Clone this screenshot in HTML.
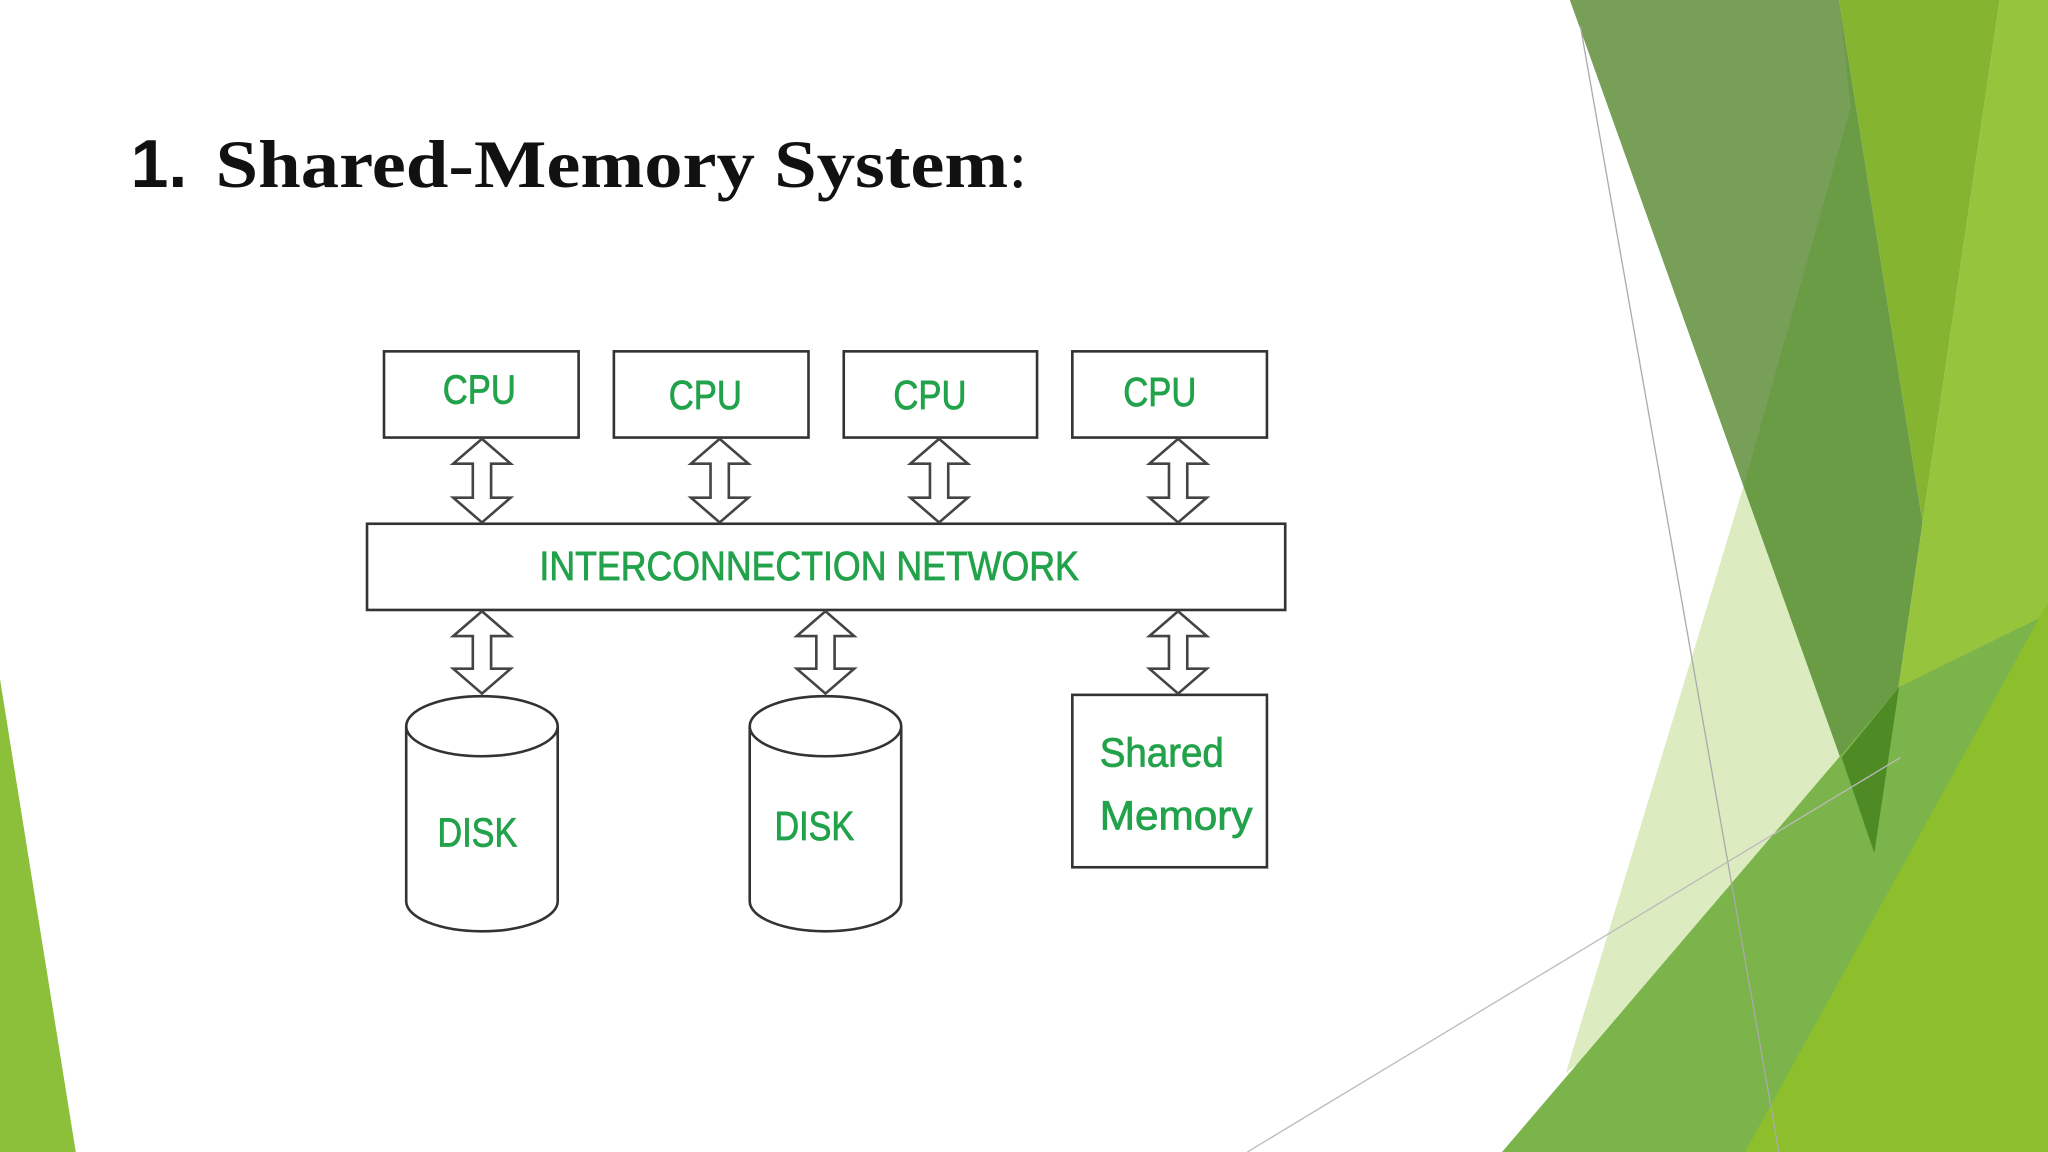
<!DOCTYPE html>
<html><head><meta charset="utf-8"><style>html,body{margin:0;padding:0;background:#fff}svg{display:block}</style></head>
<body>
<svg width="2048" height="1152" viewBox="0 0 1568 882" xmlns="http://www.w3.org/2000/svg">
<rect width="1568" height="882" fill="#fff"/>
<!-- background shapes -->
<polygon points="0,520 58,882 0,882" fill="#8cbf3a"/>
<polygon points="1272,197 1437,648 1199,821 1335,372" fill="#dcebc0"/>
<polygon points="1202,0 1408,0 1472,400 1435,653" fill="#6a9b45"/>
<polygon points="1202,0 1408,0 1417,82 1335,372" fill="#779f58"/>
<polygon points="1408,0 1531,0 1472,400" fill="#84b430"/>
<polygon points="1531,0 1568,0 1568,882 1400,882 1435,653 1472,400" fill="#96c43c"/>
<polygon points="1150,882 1454,526 1568,470 1568,882" fill="#7ab44a"/>
<polygon points="1336,882 1568,461 1568,882" fill="#8dbf2c"/>
<polygon points="1410,580 1454,526 1435,653" fill="#4f8b25"/>
<line x1="1210" y1="20" x2="1362" y2="882" stroke="#aaa" stroke-width="1"/>
<line x1="955" y1="882" x2="1455" y2="580" stroke="#bbb" stroke-width="1"/>
<!-- title -->
<text x="100" y="143" font-family="Liberation Sans, sans-serif" font-weight="bold" font-size="52" fill="#111">1.</text>
<text x="165" y="143" font-family="Liberation Serif, serif" font-weight="bold" font-size="52" fill="#111" textLength="607" lengthAdjust="spacingAndGlyphs">Shared-Memory System</text>
<text x="772" y="143" font-family="Liberation Serif, serif" font-size="52" fill="#111">:</text>
<!-- diagram -->
<g fill="#fff" stroke="#333" stroke-width="2">
<rect x="294" y="269" width="149" height="66"/>
<rect x="470" y="269" width="149" height="66"/>
<rect x="646" y="269" width="148" height="66"/>
<rect x="821" y="269" width="149" height="66"/>
<rect x="281" y="401" width="703" height="66"/>
<rect x="821" y="532" width="149" height="132"/>
<path d="M311,556 L311,690 A58,23 0 0 0 427,690 L427,556 A58,23 0 0 0 311,556 A58,23 0 0 0 427,556"/>
<path d="M574,556 L574,690 A58,23 0 0 0 690,690 L690,556 A58,23 0 0 0 574,556 A58,23 0 0 0 690,556"/>
</g>
<g fill="#fff" stroke="#444" stroke-width="2" stroke-linejoin="miter">
<polygon points="369,336 391,355 376,355 376,381 391,381 369,400 347,381 362,381 362,355 347,355"/>
<polygon points="551,336 573,355 558,355 558,381 573,381 551,400 529,381 544,381 544,355 529,355"/>
<polygon points="719,336 741,355 726,355 726,381 741,381 719,400 697,381 712,381 712,355 697,355"/>
<polygon points="902,336 924,355 909,355 909,381 924,381 902,400 880,381 895,381 895,355 880,355"/>
<polygon points="369,468 391,487 376,487 376,512 391,512 369,531 347,512 362,512 362,487 347,487"/>
<polygon points="632,468 654,487 639,487 639,512 654,512 632,531 610,512 625,512 625,487 610,487"/>
<polygon points="902,468 924,487 909,487 909,512 924,512 902,531 880,512 895,512 895,487 880,487"/>
</g>
<g font-family="Liberation Sans, sans-serif" fill="#22a24a" font-size="31" stroke="#22a24a" stroke-width="0.6">
<text x="339" y="309" textLength="56" lengthAdjust="spacingAndGlyphs">CPU</text>
<text x="512" y="313" textLength="56" lengthAdjust="spacingAndGlyphs">CPU</text>
<text x="684" y="313" textLength="56" lengthAdjust="spacingAndGlyphs">CPU</text>
<text x="860" y="311" textLength="56" lengthAdjust="spacingAndGlyphs">CPU</text>
<text x="413" y="444" textLength="413" lengthAdjust="spacingAndGlyphs">INTERCONNECTION NETWORK</text>
<text x="335" y="648" textLength="61" lengthAdjust="spacingAndGlyphs">DISK</text>
<text x="593" y="643" textLength="61" lengthAdjust="spacingAndGlyphs">DISK</text>
<text x="842" y="587" textLength="95" lengthAdjust="spacingAndGlyphs">Shared</text>
<text x="842" y="635" textLength="117" lengthAdjust="spacingAndGlyphs">Memory</text>
</g>
</svg>
</body></html>
